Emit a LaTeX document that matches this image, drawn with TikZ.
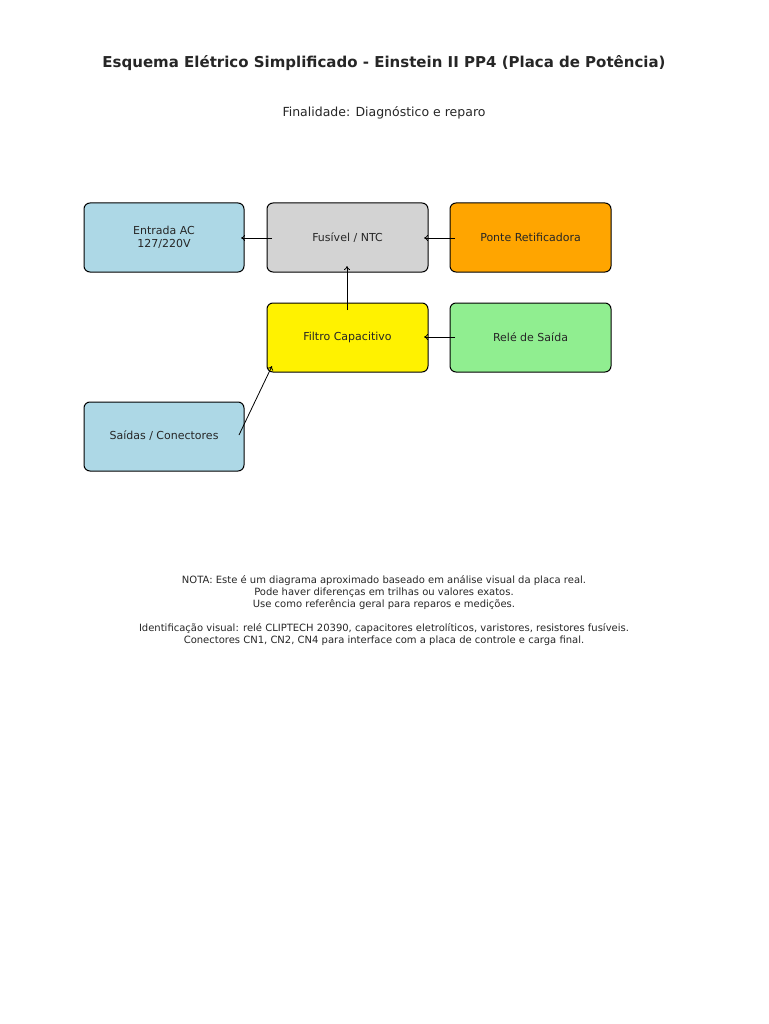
\documentclass[tikz,border=0pt]{standalone}
\usepackage{fontspec}
\setmainfont{DejaVu Sans}
\usetikzlibrary{arrows.meta}
\begin{document}
\begin{tikzpicture}[x=1pt,y=-1pt,
  blk/.style={draw=black,line width=1pt,rounded corners=6pt,inner sep=0pt,text=black!85},
  arr/.style={-{To[length=4pt,width=6pt]},line width=0.8pt},
  txt/.style={inner sep=0pt,text=black!85}]
\useasboundingbox (0,0) rectangle (768,1024);
\node[txt,font=\fontsize{15}{18}\selectfont\bfseries] (title) at (384,63) {Esquema Elétrico Simplificado - Einstein II PP4 (Placa de Potência)};
\node[txt,font=\fontsize{12.5}{15}\selectfont] (sub) at (384,113) {Finalidade: Diagnóstico e reparo};
\tikzset{bt/.style={font=\fontsize{11}{12.5}\selectfont,align=center}}
\draw[blk,fill={rgb,255:red,173;green,216;blue,230}] (84,203) rectangle (244,272);
\node[txt,bt] (ac) at (164,237.5) {Entrada AC\\127/220V};
\draw[blk,fill={rgb,255:red,211;green,211;blue,211}] (267,203) rectangle (428,272);
\node[txt,bt] (fus) at (347.5,237.5) {Fusível / NTC};
\draw[blk,fill={rgb,255:red,255;green,165;blue,0}] (450,203) rectangle (611,272);
\node[txt,bt] (pon) at (530.5,237.5) {Ponte Retificadora};
\draw[blk,fill=yellow] (267,303) rectangle (428,372);
\node[txt,bt] (fil) at (347.5,337) {Filtro Capacitivo};
\draw[blk,fill={rgb,255:red,144;green,238;blue,144}] (450,303) rectangle (611,372);
\node[txt,bt] (rel) at (530.5,337) {Relé de Saída};
\draw[blk,fill={rgb,255:red,173;green,216;blue,230}] (84,402) rectangle (244,471);
\node[txt,bt] (sai) at (164,436) {Saídas / Conectores};
\coordinate (a1) at (272,238); \coordinate (a2) at (241,238);
\coordinate (b1) at (455,238); \coordinate (b2) at (424,238);
\coordinate (c1) at (347,310); \coordinate (c2) at (347,266);
\coordinate (d1) at (455,337); \coordinate (d2) at (424,337);
\coordinate (e1) at (239,435); \coordinate (e2) at (272,366);
\draw[arr] (a1) -- (a2);
\draw[arr] (b1) -- (b2);
\draw[arr] (c1) -- (c2);
\draw[arr] (d1) -- (d2);
\draw[arr] (e1) -- (e2);
\node[txt,font=\fontsize{10}{12}\selectfont,align=center,anchor=north] (note) at (384,575) {NOTA: Este é um diagrama aproximado baseado em análise visual da placa real.\\Pode haver diferenças em trilhas ou valores exatos.\\Use como referência geral para reparos e medições.\\[12pt]Identificação visual: relé CLIPTECH 20390, capacitores eletrolíticos, varistores, resistores fusíveis.\\Conectores CN1, CN2, CN4 para interface com a placa de controle e carga final.};
\end{tikzpicture}
\end{document}
